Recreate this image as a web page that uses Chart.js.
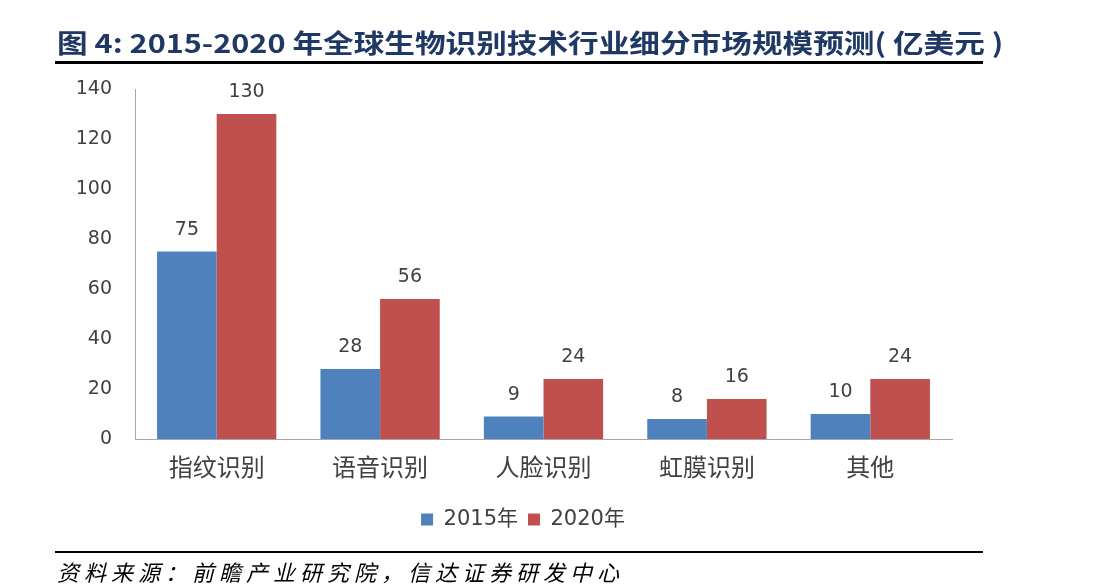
<!DOCTYPE html>
<html>
<head>
<meta charset="utf-8">
<script src="https://cdn.jsdelivr.net/npm/chart.js@4/dist/chart.umd.min.js"></script>
<style>
  html, body { margin: 0; padding: 0; background: #fff; }
  body { width: 1095px; height: 588px; position: relative; overflow: hidden; }
  #title {
    position: absolute; left: 57px; top: 25px; white-space: nowrap;
    font-family: "Noto Sans CJK SC", "Liberation Sans", sans-serif;
    font-weight: bold; font-size: 26px; line-height: 34px; color: #1F3864;
    transform-origin: left top;
  }
  .rule { position: absolute; left: 55px; width: 928px; background: #000; }
  #source {
    position: absolute; left: 57px; top: 557px; white-space: nowrap;
    font-family: "Noto Sans CJK SC", sans-serif; font-style: italic;
    font-size: 22px; line-height: 28px; color: #000; letter-spacing: 5px;
  }
  #wrap { position: absolute; left: 0; top: 0; width: 1095px; height: 588px; }
</style>
</head>
<body>
<div id="wrap"><canvas id="chart"></canvas></div>
<div id="title">图 4: 2015-2020 年全球生物识别技术行业细分市场规模预测( 亿美元 )</div>
<div class="rule" style="top:61px;height:3px;"></div>
<div class="rule" style="top:551px;height:2px;"></div>
<div id="source">资料来源：前瞻产业研究院，信达证券研发中心</div>
<script>
const categories = ['指纹识别', '语音识别', '人脸识别', '虹膜识别', '其他'];
const values2015 = [75, 28, 9, 8, 10];
const values2020 = [130, 56, 24, 16, 24];
const yTicks = [0, 20, 40, 60, 80, 100, 120, 140];

const FONT = '"DejaVu Sans", "Noto Sans CJK SC", sans-serif';
const CJK_FONT = '"Noto Sans CJK SC", "DejaVu Sans", sans-serif';
const TEXT = '#404040';

// squeeze the title to the width seen in the picture
const title = document.getElementById('title');
title.style.transform = 'scaleX(' + (946 / title.offsetWidth) + ')';

// numbers above the bars
const barLabels = {
    id: 'barLabels',
    afterDatasetsDraw(chart) {
        const ctx = chart.ctx;
        ctx.save();
        ctx.font = '19px ' + FONT;
        ctx.fillStyle = TEXT;
        ctx.textAlign = 'center';
        ctx.textBaseline = 'bottom';
        chart.data.datasets.forEach((ds, i) => {
            chart.getDatasetMeta(i).data.forEach((bar, j) => {
                ctx.fillText(ds.data[j], bar.x, bar.y - 12);
            });
        });
        ctx.restore();
    }
};

// legend sits a bit right of the plot centre in the original
const shiftLegend = {
    id: 'shiftLegend',
    afterLayout(chart) {
        chart.legend.left += 47;
        chart.legend.right += 47;
    }
};

new Chart(document.getElementById('chart'), {
    type: 'bar',
    data: {
        labels: categories,
        datasets: [
            { label: '2015年', data: values2015, backgroundColor: '#4F81BD' },
            { label: '2020年', data: values2020, backgroundColor: '#C0504D' }
        ]
    },
    options: {
        responsive: true,
        maintainAspectRatio: false,
        animation: false,
        layout: { padding: { top: 89, right: 143, bottom: 48, left: 0 } },
        datasets: { bar: { categoryPercentage: 0.73, barPercentage: 1.0 } },
        scales: {
            x: {
                grid: { display: false, drawTicks: false },
                border: { display: true, color: '#A6A6A6', width: 1 },
                ticks: { font: { size: 24, family: CJK_FONT }, color: TEXT, padding: 13 },
                afterFit(scale) { scale.height = 60; }
            },
            y: {
                min: 0, max: 140,
                afterBuildTicks(scale) { scale.ticks = yTicks.map(v => ({ value: v })); },
                grid: { display: false, drawTicks: false },
                border: { display: true, color: '#A6A6A6', width: 1 },
                ticks: { font: { size: 19, family: FONT }, color: TEXT, padding: 23 },
                afterFit(scale) { scale.width = 135; }
            }
        },
        plugins: {
            legend: {
                position: 'bottom',
                labels: {
                    font: { size: 21, family: FONT }, color: TEXT,
                    boxWidth: 12, boxHeight: 12, padding: 10
                }
            },
            tooltip: { enabled: false }
        }
    },
    plugins: [barLabels, shiftLegend]
});
</script>
</body>
</html>
